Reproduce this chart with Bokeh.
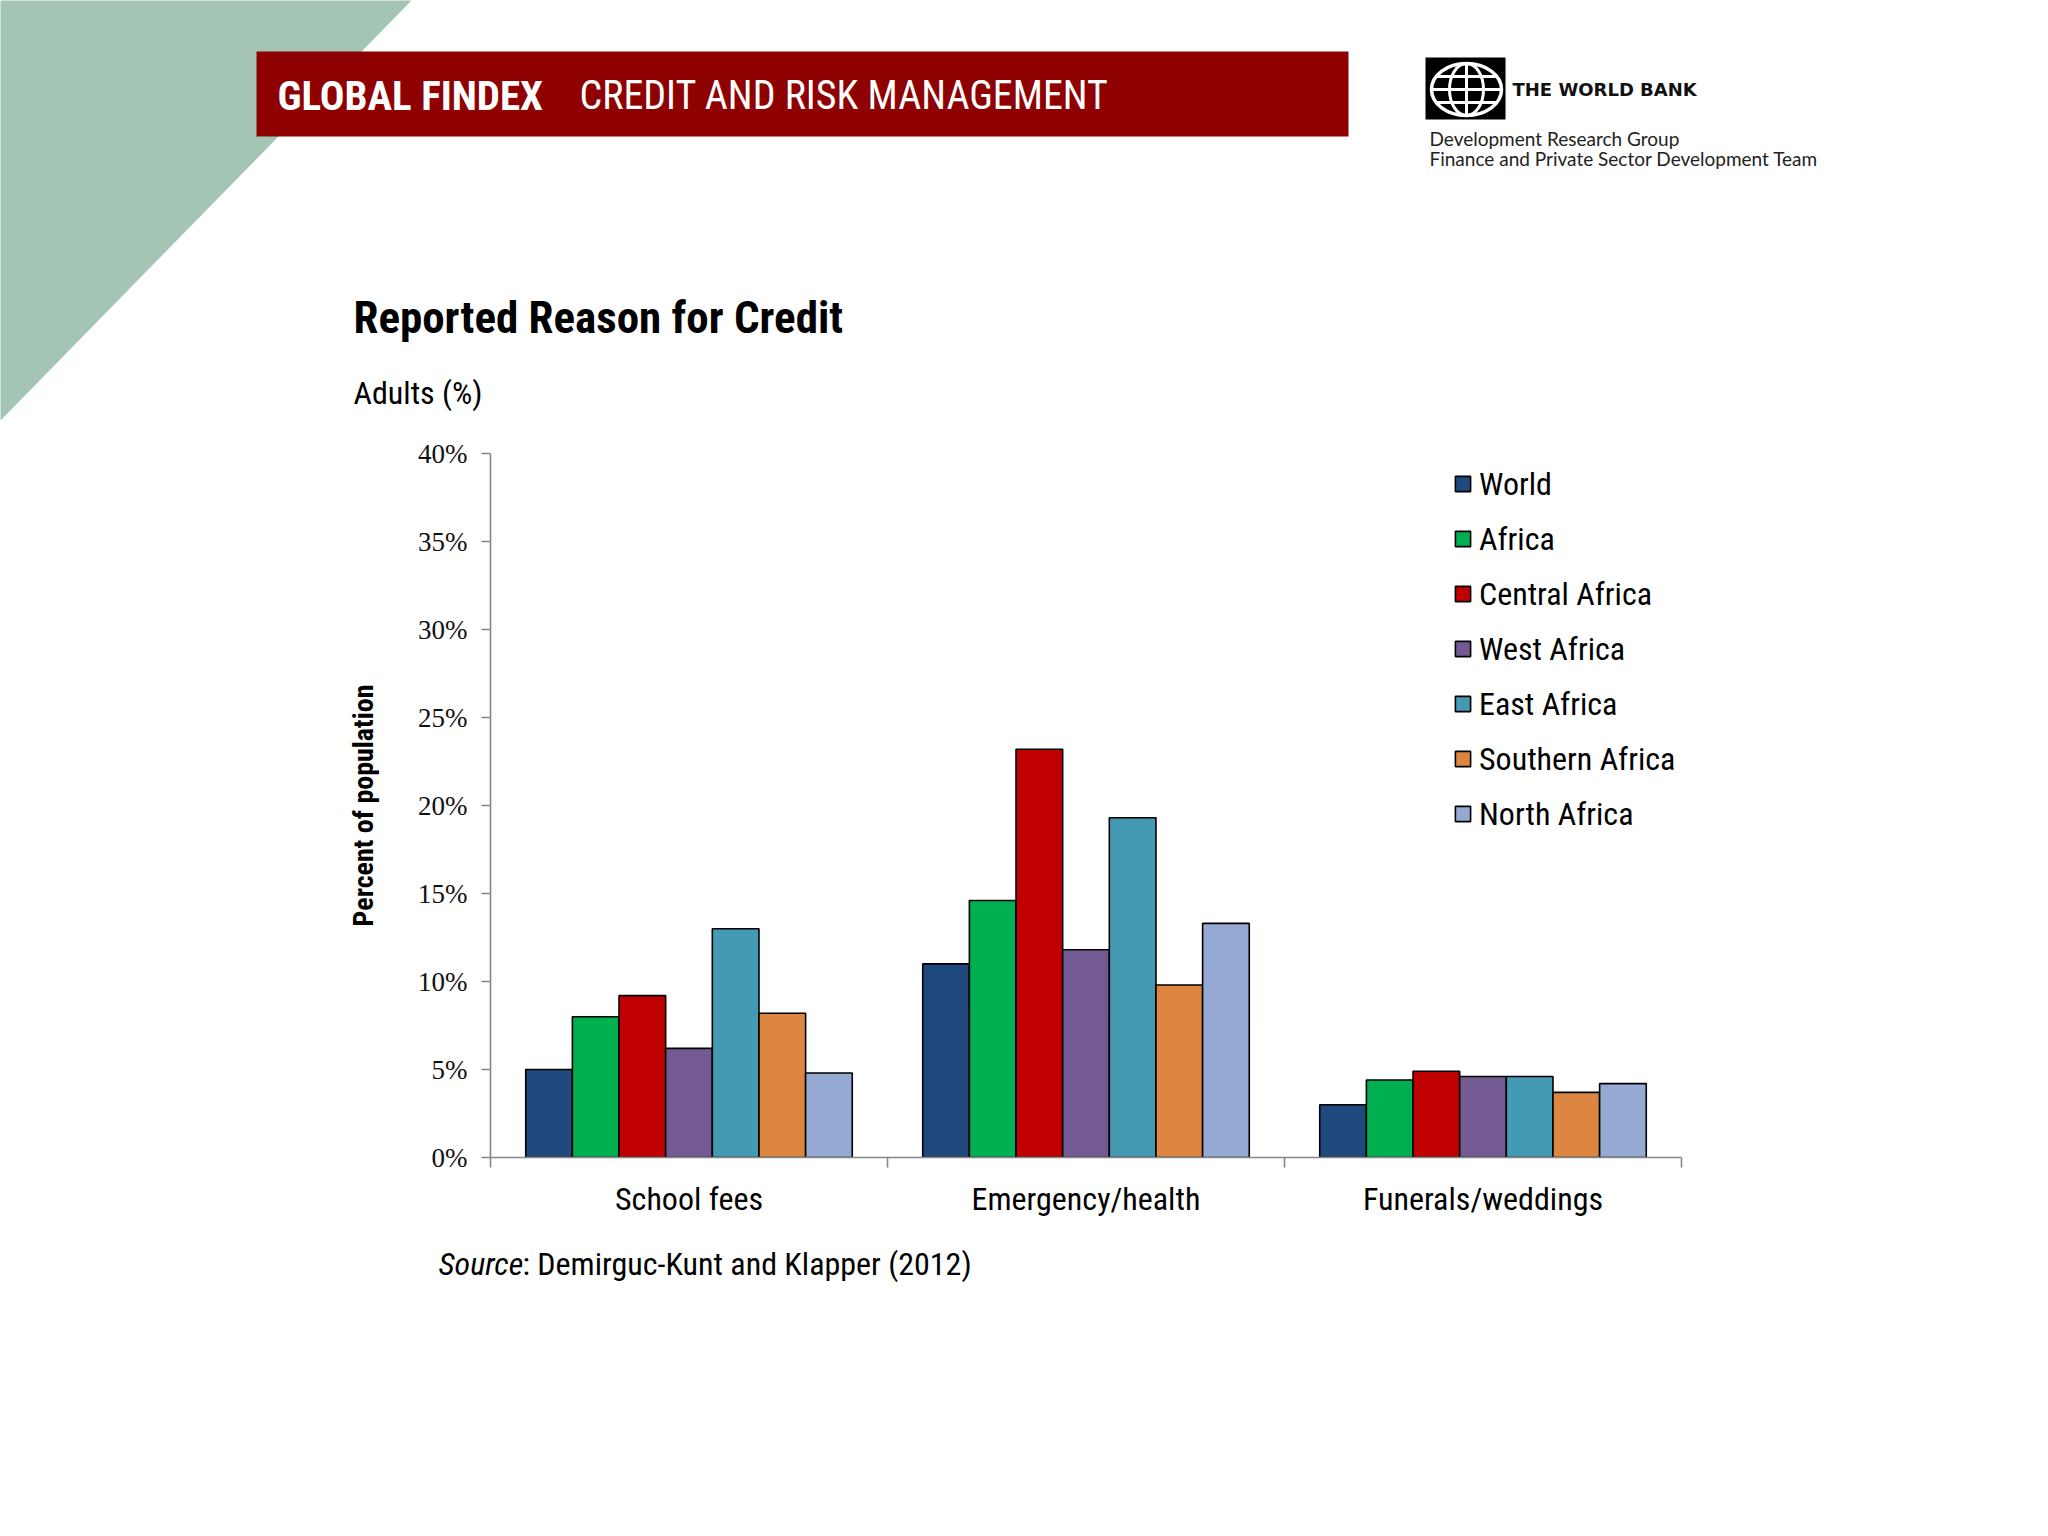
from bokeh.plotting import figure
from bokeh.models import (Range1d, LinearAxis, FixedTicker, PrintfTickFormatter,
                          ColumnDataSource, Legend, LegendItem)
from bokeh.core.properties import value
from bokeh.embed import file_html
from bokeh.resources import INLINE

# ---------------- data ----------------
categories = ["School fees", "Emergency/health", "Funerals/weddings"]
series_names = ["World", "Africa", "Central Africa", "West Africa",
                "East Africa", "Southern Africa", "North Africa"]
world = [5.0, 11.0, 3.0]
africa = [8.0, 14.6, 4.4]
central_africa = [9.2, 23.2, 4.9]
west_africa = [6.2, 11.8, 4.6]
east_africa = [13.0, 19.3, 4.6]
southern_africa = [8.2, 9.8, 3.7]
north_africa = [4.8, 13.3, 4.2]
y_ticks = [0, 5, 10, 15, 20, 25, 30, 35, 40]

all_series = [world, africa, central_africa, west_africa,
              east_africa, southern_africa, north_africa]
colors = ["#204A7D", "#00B050", "#C00000", "#745A92",
          "#4499B3", "#DC8642", "#95A9D2"]

NARROW = "Roboto Condensed"

# ---------------- layout ----------------
W, H = 2032, 1520
FL, FR, FT, FB = 490, 1681, 453, 1157

p = figure(width=W, height=H, x_range=Range1d(0, len(categories)),
           y_range=Range1d(0, 40), output_backend="svg", toolbar_location=None,
           min_border_left=FL, min_border_right=W - FR,
           min_border_top=FT, min_border_bottom=H - FB)
p.outline_line_color = None
p.grid.visible = False
p.background_fill_color = "white"
p.border_fill_color = "white"
p.extra_x_ranges = {"px": Range1d(FL, FR)}
p.extra_y_ranges = {"py": Range1d(FB, FT)}

AX = "#878787"

# ---------------- bars ----------------
n = len(series_names)
bw = 0.1175
renderers = []
for j, (name, vals, col) in enumerate(zip(series_names, all_series, colors)):
    xs = [i + 0.5 + (j - (n - 1) / 2) * bw for i in range(len(categories))]
    src = ColumnDataSource(dict(x=xs, top=vals))
    r = p.vbar(x="x", top="top", bottom=0, width=bw, source=src,
               fill_color=col, line_color="black", line_width=1.6)
    renderers.append(r)

legend = Legend(items=[LegendItem(label=nm, renderers=[r]) for nm, r in zip(series_names, renderers)],
                location=(963, 324), orientation="vertical", padding=0, margin=0,
                spacing=16, glyph_width=19, glyph_height=19, label_height=39,
                label_standoff=7, label_text_font=NARROW, label_text_font_size="32px",
                label_text_color="black", border_line_color=None,
                background_fill_alpha=0)
p.add_layout(legend)

# ---------------- axes ----------------
ya = p.yaxis[0]
ya.ticker = FixedTicker(ticks=y_ticks)
ya.formatter = PrintfTickFormatter(format="%d%%")
ya.minor_tick_line_color = None
ya.major_tick_in = 0
ya.major_tick_out = 9
ya.axis_line_color = AX
ya.axis_line_width = 1.6
ya.major_tick_line_color = AX
ya.major_tick_line_width = 1.6
ya.major_label_text_font = "Liberation Serif"
ya.major_label_text_font_size = "27px"
ya.major_label_text_color = "#111111"
ya.major_label_standoff = 14
ya.axis_label = "Percent of population"
ya.axis_label_text_font = NARROW
ya.axis_label_text_font_style = "bold"
ya.axis_label_text_font_size = "28px"
ya.axis_label_text_color = "black"
ya.axis_label_standoff = 35

xa = p.xaxis[0]
boundaries = list(range(len(categories) + 1))
xa.ticker = FixedTicker(ticks=boundaries)
xa.major_label_overrides = {b: "" for b in boundaries}
xa.major_label_standoff = 0
xa.minor_tick_line_color = None
xa.major_tick_in = 0
xa.major_tick_out = 10
xa.axis_line_color = AX
xa.axis_line_width = 1.6
xa.major_tick_line_color = AX
xa.major_tick_line_width = 1.6

xl = LinearAxis(ticker=FixedTicker(ticks=[i + 0.5 for i in range(len(categories))]),
                major_label_overrides={i + 0.5: c for i, c in enumerate(categories)},
                axis_line_color=None, major_tick_line_color=None,
                minor_tick_line_color=None, major_tick_out=0, major_tick_in=0,
                major_label_standoff=12, major_label_text_font=NARROW,
                major_label_text_font_size="32px", major_label_text_color="black")
p.add_layout(xl, "below")

# ---------------- page decorations (pixel space) ----------------
deco = dict(x_range_name="px", y_range_name="py", level="overlay")

p.patch(x=[0, 411, 0], y=[0, 0, 420], fill_color="#A4C5B4", line_color=None, **deco)
p.quad(left=[256], right=[1348], top=[51], bottom=[136], fill_color="#8F0000",
       line_color=None, **deco)
p.text(x=[277], y=[95], text=["GLOBAL FINDEX"], text_font=value(NARROW),
       text_font_style="bold", text_font_size="41px", text_color="white",
       text_baseline="middle", text_align="left", **deco)
p.text(x=[579], y=[95], text=["CREDIT AND RISK MANAGEMENT"], text_font=value(NARROW),
       text_font_size="40px", text_color="white",
       text_baseline="middle", text_align="left", **deco)

# World Bank logo
p.quad(left=[1425], right=[1505], top=[57], bottom=[119], fill_color="black",
       line_color=None, **deco)
p.ellipse(x=[1466], y=[89], width=[70], height=[52], width_units="screen",
          height_units="screen", fill_color=None, line_color="white", line_width=3.5, **deco)
p.ellipse(x=[1466], y=[89], width=[34], height=[52], width_units="screen",
          height_units="screen", fill_color=None, line_color="white", line_width=3, **deco)
p.segment(x0=[1466, 1431, 1436, 1436], y0=[63, 89, 76, 102],
          x1=[1466, 1501, 1496, 1496], y1=[115, 89, 76, 102],
          line_color="white", line_width=3, **deco)
p.text(x=[1512], y=[89], text=["THE WORLD BANK"], text_font=value("DejaVu Sans"),
       text_font_style="bold", text_font_size="18px", text_color="#111111",
       text_baseline="middle", text_align="left", **deco)
p.text(x=[1429, 1429], y=[138, 158],
       text=["Development Research Group", "Finance and Private Sector Development Team"],
       text_font=value("Lato"), text_font_size="19px", text_color="#222222",
       text_baseline="middle", text_align="left", **deco)

# titles
p.text(x=[353], y=[317], text=["Reported Reason for Credit"], text_font=value(NARROW),
       text_font_style="bold", text_font_size="45px", text_color="black",
       text_baseline="middle", text_align="left", **deco)
p.text(x=[353], y=[392], text=["Adults (%)"], text_font=value(NARROW),
       text_font_size="32px", text_color="black",
       text_baseline="middle", text_align="left", **deco)

# source
p.text(x=[438], y=[1263], text=["Source"], text_font=value(NARROW),
       text_font_style="italic", text_font_size="32px", text_color="black",
       text_baseline="middle", text_align="left", **deco)
p.text(x=[522], y=[1263], text=[": Demirguc-Kunt and Klapper (2012)"], text_font=value(NARROW),
       text_font_size="32px", text_color="black",
       text_baseline="middle", text_align="left", **deco)

open("out.html", "w").write(file_html(p, INLINE))
